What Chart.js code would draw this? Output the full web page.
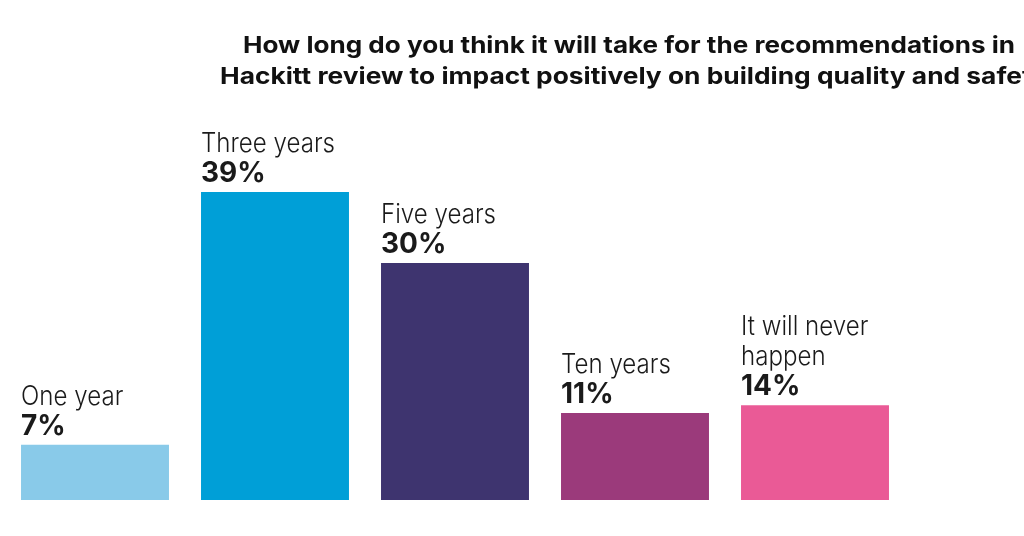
<!DOCTYPE html>
<html>
<head>
<meta charset="utf-8">
<script src="https://cdn.jsdelivr.net/npm/chart.js@4"></script>
<style>
  body { margin: 0; background: #ffffff; }
  #wrap { width: 1024px; height: 536px; }
</style>
</head>
<body>
<div id="wrap"><canvas id="survey_chart" width="1024" height="536"></canvas></div>
<script>
var categories = ["One year", "Three years", "Five years", "Ten years", ["It will never", "happen"]];
// bar heights as drawn in the picture (the last bar is drawn shorter than its label)
var barValues = [7, 39, 30, 11, 12];
var valueLabels = ["7%", "39%", "30%", "11%", "14%"];
var barColors = ["#89cae9", "#009fd7", "#3e346f", "#9b3a7b", "#ea5a96"];
// the title runs off the right edge in the original, so only what shows is kept
var titleLines = [
    "How long do you think it will take for the recommendations in",
    "Hackitt review to impact positively on building quality and safety"
];

// draws text squeezed/stretched horizontally
function drawScaled(c, text, x, y, sx) {
    c.save();
    c.translate(x, y);
    c.scale(sx, 1);
    c.fillText(text, 0, 0);
    c.restore();
}

var titlePlugin = {
    id: "titleText",
    afterDraw: function(chart) {
        var c = chart.ctx;
        c.save();
        c.fillStyle = "#111111";
        c.font = "700 23px Inter";
        c.textBaseline = "alphabetic";
        // line 1 ends at "in" near x=1015, line 2 reaches "safe" at the edge
        var s1 = 772 / c.measureText(titleLines[0]).width;
        var s2 = 802 / c.measureText("Hackitt review to impact positively on building quality and safe").width;
        drawScaled(c, titleLines[0], 243, 53, s1);
        drawScaled(c, titleLines[1], 220, 84, s2);
        c.restore();
    }
};

var barLabels = {
    id: "barLabels",
    afterDatasetsDraw: function(chart) {
        var c = chart.ctx;
        var meta = chart.getDatasetMeta(0);
        c.save();
        c.fillStyle = "#1a1a1a";
        c.textBaseline = "alphabetic";
        c.font = "300 27px Inter";
        var sx = 134 / c.measureText("Three years").width;
        meta.data.forEach(function(bar, i) {
            var left = bar.x - bar.width / 2;
            var base = bar.y - 10;
            c.font = "700 28px Inter";
            c.fillText(valueLabels[i], left, base);
            var lines = [].concat(categories[i]);
            c.font = "300 27px Inter";
            for (var k = 0; k < lines.length; k++) {
                drawScaled(c, lines[lines.length - 1 - k], left, base - 30 * (k + 1), sx);
            }
        });
        c.restore();
    }
};

new Chart(document.getElementById("survey_chart"), {
    type: "bar",
    data: {
        labels: categories,
        datasets: [{
            data: barValues,
            backgroundColor: barColors,
            borderWidth: 0,
            categoryPercentage: 1,
            barPercentage: 0.822
        }]
    },
    plugins: [barLabels, titlePlugin],
    options: {
        responsive: false,
        animation: false,
        devicePixelRatio: 1,
        layout: {
            padding: { left: 5, right: 119, top: 105, bottom: 36 }
        },
        scales: {
            x: { display: false },
            y: { display: false, min: 0, max: 50 }
        },
        plugins: {
            legend: { display: false },
            tooltip: { enabled: false }
        }
    }
});
</script>
</body>
</html>
